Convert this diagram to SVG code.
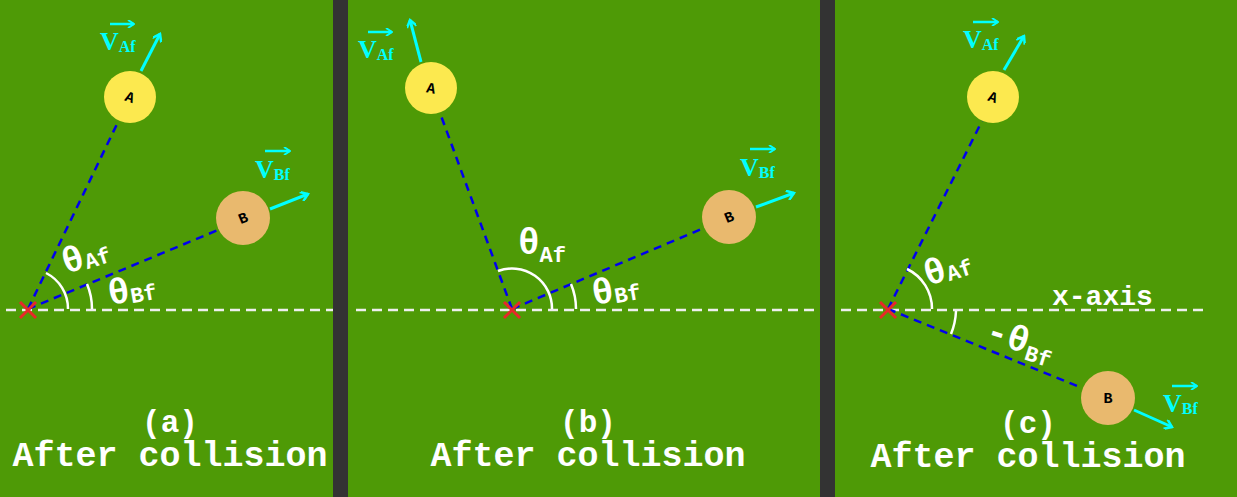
<svg xmlns="http://www.w3.org/2000/svg" width="1237" height="497" viewBox="0 0 1237 497">
<defs>
<style>
.bg{fill:#4e9a06}
.bar{fill:#333333}
.axis{stroke:#eeeeee;stroke-width:2.5;stroke-dasharray:10 6;fill:none}
.dash{stroke:#0000ee;stroke-width:2.5;stroke-dasharray:8 6;fill:none}
.arc{stroke:#ffffff;stroke-width:2.5;fill:none}
.vel{stroke:#00ffff;stroke-width:3;fill:none;marker-end:url(#ah)}
.cross{stroke:#e8282a;stroke-width:3}
.ca{fill:#fce94f}
.cb{fill:#e9b96e}
.lbl{font-family:"Liberation Mono","Courier New",monospace;font-weight:bold;font-size:15px;fill:#000;text-anchor:middle}
.th{font-family:"Liberation Mono","Courier New",monospace;font-weight:bold;fill:#fff}
.v{font-family:"Liberation Serif",serif;font-weight:bold;fill:#00ffff}
.cap{font-family:"Liberation Mono","Courier New",monospace;font-weight:bold;font-size:35px;fill:#fff;text-anchor:middle}
.sub{font-family:"Liberation Mono","Courier New",monospace;font-weight:bold;font-size:31px;fill:#fff;text-anchor:middle}
.varr{stroke:#00ffff;stroke-width:2.5;fill:none;marker-end:url(#ah2)}
</style>
<marker id="ah" markerWidth="10" markerHeight="10" refX="8" refY="5" orient="auto" markerUnits="userSpaceOnUse"><path d="M1,0 L8,5 L1,10" fill="none" stroke="#00ffff" stroke-width="2.5"/></marker>
<marker id="ah2" markerWidth="8" markerHeight="8" refX="7" refY="4" orient="auto" markerUnits="userSpaceOnUse"><path d="M1,0 L7,4 L1,8" fill="none" stroke="#00ffff" stroke-width="2"/></marker>
</defs>
<rect class="bg" x="0" y="0" width="1237" height="497"/>
<rect class="bar" x="333" y="0" width="15" height="497"/>
<rect class="bar" x="820" y="0" width="15" height="497"/>

<g id="connectors">
<line class="axis" x1="6" y1="310" x2="333" y2="310"/>
<line class="axis" x1="356" y1="310" x2="820" y2="310"/>
<line class="axis" x1="841" y1="310" x2="1205" y2="310"/>
<line class="dash" x1="28" y1="309" x2="118" y2="122"/>
<line class="dash" x1="28" y1="309" x2="218" y2="230"/>
<line class="dash" x1="512" y1="309" x2="440" y2="113"/>
<line class="dash" x1="512" y1="309" x2="704" y2="228"/>
<line class="dash" x1="888" y1="309" x2="982" y2="121"/>
<line class="dash" x1="888" y1="309" x2="1082" y2="388"/>
<path class="arc" d="M68,309 A40,40 0 0 0 46,273"/>
<path class="arc" d="M92,309 A64,64 0 0 0 87,284"/>
<path class="arc" d="M552,309 A40,40 0 0 0 498,271"/>
<path class="arc" d="M576,309 A64,64 0 0 0 571,284"/>
<path class="arc" d="M932,309 A44,44 0 0 0 907,269"/>
<path class="arc" d="M956,311 A68,68 0 0 1 951,334"/>
<line class="vel" x1="141" y1="71" x2="160" y2="34"/>
<line class="vel" x1="270" y1="209" x2="308" y2="194"/>
<line class="vel" x1="421" y1="62" x2="410" y2="20"/>
<line class="vel" x1="756" y1="207" x2="794" y2="193"/>
<line class="vel" x1="1004" y1="70" x2="1024" y2="36"/>
<line class="vel" x1="1134" y1="410" x2="1172" y2="427"/>
</g>

<g id="origins">
<path class="cross" d="M20,302 L36,318 M36,302 L20,318"/>
<path class="cross" d="M504,302 L520,318 M520,302 L504,318"/>
<path class="cross" d="M880,302 L896,318 M896,302 L880,318"/>
</g>

<g id="ballA-a"><circle class="ca" cx="130" cy="97" r="26"/><text class="lbl" x="130" y="102" transform="rotate(20 130 97)">A</text></g>
<g id="ballB-a"><circle class="cb" cx="243" cy="218" r="27"/><text class="lbl" x="243" y="223" transform="rotate(-22 243 218)">B</text></g>
<g id="ballA-b"><circle class="ca" cx="431" cy="88" r="26"/><text class="lbl" x="431" y="93" transform="rotate(10 431 88)">A</text></g>
<g id="ballB-b"><circle class="cb" cx="729" cy="217" r="27"/><text class="lbl" x="729" y="222" transform="rotate(-22 729 217)">B</text></g>
<g id="ballA-c"><circle class="ca" cx="993" cy="97" r="26"/><text class="lbl" x="993" y="102" transform="rotate(20 993 97)">A</text></g>
<g id="ballB-c"><circle class="cb" cx="1108" cy="398" r="27"/><text class="lbl" x="1108" y="403">B</text></g>

<g id="labels">
<text class="v" x="100" y="50" font-size="26">V<tspan font-size="16" dy="2">Af</tspan></text>
<line class="varr" x1="110" y1="24" x2="134" y2="24"/>
<text class="v" x="255" y="178" font-size="26">V<tspan font-size="16" dy="2">Bf</tspan></text>
<line class="varr" x1="265" y1="151" x2="290" y2="151"/>
<text class="v" x="358" y="58" font-size="26">V<tspan font-size="16" dy="2">Af</tspan></text>
<line class="varr" x1="368" y1="32" x2="392" y2="32"/>
<text class="v" x="740" y="176" font-size="26">V<tspan font-size="16" dy="2">Bf</tspan></text>
<line class="varr" x1="750" y1="149" x2="775" y2="149"/>
<text class="v" x="963" y="48" font-size="26">V<tspan font-size="16" dy="2">Af</tspan></text>
<line class="varr" x1="973" y1="22" x2="998" y2="22"/>
<text class="v" x="1163" y="412" font-size="26">V<tspan font-size="16" dy="2">Bf</tspan></text>
<line class="varr" x1="1172" y1="386" x2="1197" y2="386"/>

<text class="th" x="66" y="274" font-size="36" transform="rotate(-18 66 274)">θ<tspan font-size="22" dy="2">Af</tspan></text>
<text class="th" x="110" y="305" font-size="36" transform="rotate(-10 110 305)">θ<tspan font-size="22" dy="2">Bf</tspan></text>
<text class="th" x="518" y="254" font-size="36">θ<tspan font-size="22" dy="8">Af</tspan></text>
<text class="th" x="594" y="305" font-size="36" transform="rotate(-10 594 305)">θ<tspan font-size="22" dy="2">Bf</tspan></text>
<text class="th" x="928" y="286" font-size="36" transform="rotate(-18 928 286)">θ<tspan font-size="22" dy="2">Af</tspan></text>
<text class="th" x="1052" y="305" font-size="28">x-axis</text>
<text class="th" x="984" y="340" font-size="36" transform="rotate(18 984 340)">-θ<tspan font-size="22" dy="6">Bf</tspan></text>

<text class="sub" x="170" y="432">(a)</text>
<text class="cap" x="170" y="466">After collision</text>
<text class="sub" x="588" y="432">(b)</text>
<text class="cap" x="588" y="466">After collision</text>
<text class="sub" x="1028" y="433">(c)</text>
<text class="cap" x="1028" y="467">After collision</text>
</g>
</svg>
